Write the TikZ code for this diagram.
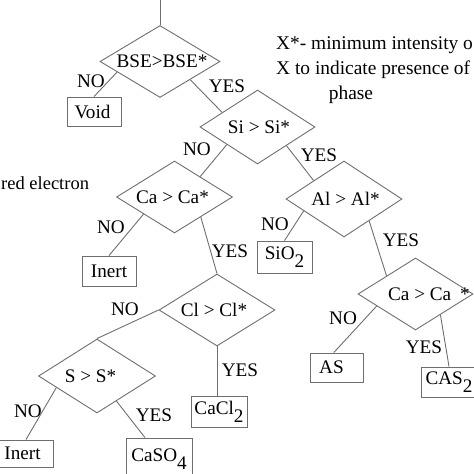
\documentclass[tikz,border=0pt]{standalone}
\usepackage{fontspec}
\setmainfont{Liberation Serif}
\usetikzlibrary{shapes.geometric,calc}
\definecolor{linegray}{RGB}{110,110,110}
\newcommand\shtxt[2]{\makebox[0pt]{\hspace*{#1}#2}}
\newcommand\lowsub[1]{\raisebox{-0.42em}{#1}}
\begin{document}
\begin{tikzpicture}[x=1pt,y=-1pt,
  every node/.style={inner sep=0pt, font=\fontsize{19.2}{23}\selectfont},
  ln/.style={draw=linegray, line width=0.9pt},
  dia/.style={diamond, draw=linegray, line width=0.9pt, inner sep=0pt, minimum width=116pt, minimum height=74pt},
  bx/.style={rectangle, draw=linegray, line width=0.9pt, inner sep=0pt, minimum width=54pt, minimum height=30pt},
  note/.style={font=\fontsize{19.4}{23}\selectfont, anchor=base west}]
\useasboundingbox (0,0) rectangle (474,474);
\clip (0,0) rectangle (474,474);
% decisions
\node[dia, minimum width=120pt, minimum height=72pt] (bse) at (160,61.5) {\shtxt{4pt}{BSE>BSE*}};
\node[dia, minimum width=115pt, minimum height=74pt] (si) at (257.5,127) {\shtxt{3pt}{Si > Si*}};
\node[dia, minimum height=72pt] (caL) at (174.5,197) {\shtxt{-4pt}{Ca > Ca*}};
\node[dia, minimum height=76pt] (al) at (344,199) {\shtxt{3pt}{Al > Al*}};
\node[dia, minimum width=115pt, minimum height=72pt] (caR) at (415.5,294) {\shtxt{27pt}{Ca > Ca\hspace{9pt}*}};
\node[dia, minimum height=72pt] (cl) at (217,310) {\shtxt{-6pt}{Cl > Cl*}};
\node[dia, minimum width=117pt, minimum height=74pt] (s) at (97,376) {\shtxt{-13pt}{S > S*}};
% outcomes
\node[bx, minimum height=29pt] (void) at (94,111.5) {\shtxt{-3pt}{Void}};
\node[bx] (inert1) at (109,271) {Inert};
\node[bx, minimum width=55pt, minimum height=32pt] (sio2) at (284.5,257) {SiO\lowsub{2}};
\node[bx, minimum width=53pt, minimum height=29pt] (as) at (336.5,367.5) {\shtxt{-10pt}{AS}};
\node[bx, minimum width=56pt, minimum height=31pt] (cacl2) at (219,411.5) {CaCl\lowsub{2}};
\node[bx, minimum width=56pt, minimum height=30pt] (cas2) at (449,382) {CAS\lowsub{2}};
\node[bx, minimum width=54pt, minimum height=27pt] (inert2) at (26,453.5) {\shtxt{-7pt}{Inert}};
\node[bx, minimum width=66pt, minimum height=42pt] (caso4) at (159,459) {CaSO\lowsub{4}};
% branch labels
\node (no1) at (91,81) {NO};
\node (yes1) at (227,86) {YES};
\node (no2) at (197,149) {NO};
\node (yes2) at (319,155) {YES};
\node (no3) at (275,224) {NO};
\node (yes3) at (401,240) {YES};
\node (no4) at (343,318) {NO};
\node (yes4) at (424,347) {YES};
\node (no5) at (111,227) {NO};
\node (yes5) at (230,251) {YES};
\node (no6) at (125,309) {NO};
\node (yes6) at (240,370) {YES};
\node (no7) at (28,411) {NO};
\node (yes7) at (154,415) {YES};
% notes
\node[note] (n1) at (276,49.5) {X*- minimum intensity o};
\node[note] (n2) at (276,74.5) {X to indicate presence of};
\node[note, anchor=base] (n3) at (351,99) {phase};
\node[note, font=\fontsize{18.5}{22}\selectfont] (n4) at (1,189) {red electron};
% connectors
\coordinate (top) at (160,0);
\draw[ln] (top) -- (bse.north);
\draw[ln] ($(bse.west)!0.29!(bse.south)$) -- (void.north);
\draw[ln] ($(bse.south)!0.5!(bse.east)$) -- ($(si.west)!0.39!(si.north)$);
\draw[ln] ($(si.west)!0.47!(si.south)$) -- ($(caL.north)!0.44!(caL.east)$);
\draw[ln] ($(si.south)!0.5!(si.east)$) -- ($(al.west)!0.48!(al.north)$);
\draw[ln] ($(al.west)!0.31!(al.south)$) -- (sio2.north);
\draw[ln] ($(al.south)!0.43!(al.east)$) -- ($(caR.west)!0.5!(caR.north)$);
\draw[ln] ($(caR.west)!0.33!(caR.south)$) -- ($(as.north west)!0.45!(as.north east)$);
\draw[ln] ($(caR.south)!0.43!(caR.east)$) -- (cas2.north);
\draw[ln] ($(caL.west)!0.47!(caL.south)$) -- (inert1.north);
\draw[ln] ($(caL.south)!0.45!(caL.east)$) -- (cl.north);
\draw[ln] (cl.west) -- (s.north);
\draw[ln] (cl.south) -- (cl.south |- cacl2.north);
\draw[ln] ($(s.west)!0.31!(s.south)$) -- (inert2.north);
\draw[ln] ($(s.south)!0.33!(s.east)$) -- ($(caso4.north west)!0.29!(caso4.north east)$);
\end{tikzpicture}
\end{document}
